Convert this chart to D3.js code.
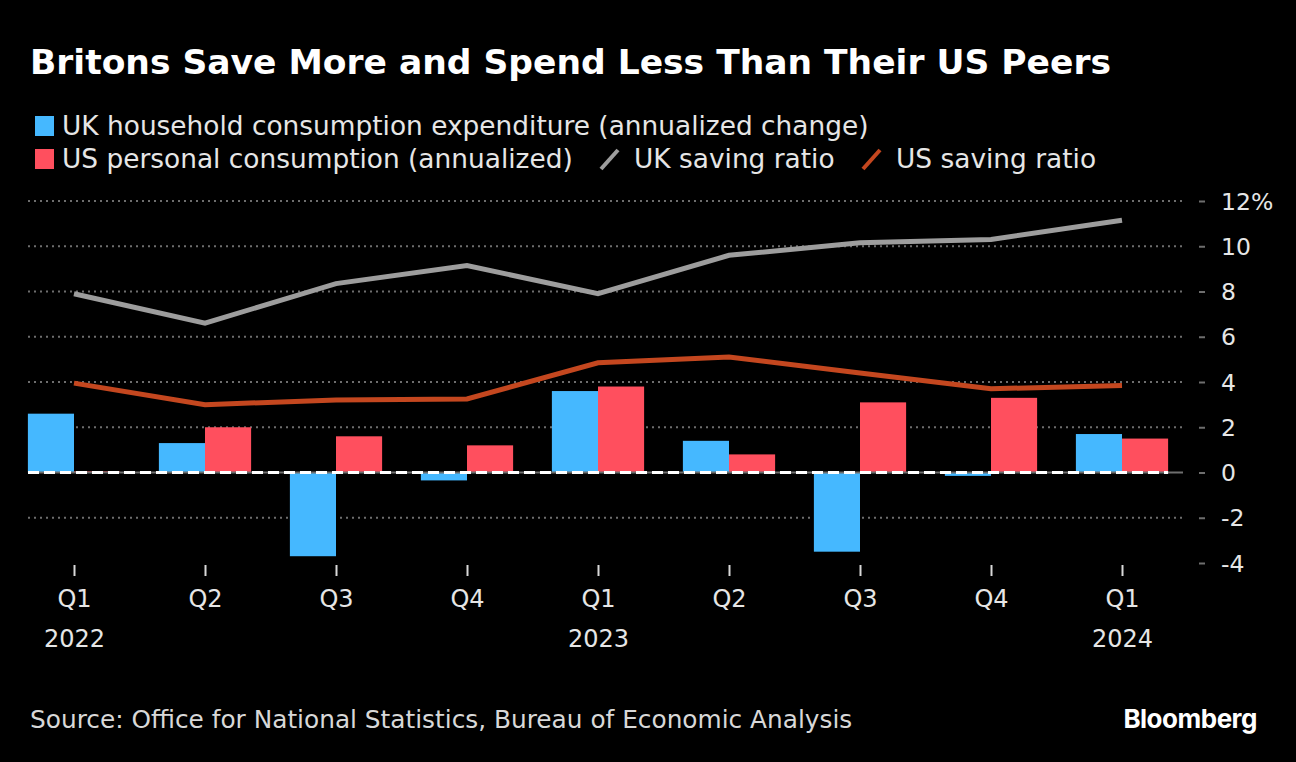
<!DOCTYPE html>
<html>
<head>
<meta charset="utf-8">
<script src="https://cdn.jsdelivr.net/npm/d3@7"></script>
<style>
  body { margin: 0; background: #000; }
  svg { display: block; }
</style>
</head>
<body>
<div id="chart"></div>
<script>
var quarters = ["Q1 2022", "Q2 2022", "Q3 2022", "Q4 2022", "Q1 2023",
                "Q2 2023", "Q3 2023", "Q4 2023", "Q1 2024"];
var quarterLabels = ["Q1", "Q2", "Q3", "Q4", "Q1", "Q2", "Q3", "Q4", "Q1"];
var yearLabels = ["2022", "", "", "", "2023", "", "", "", "2024"];

var ukConsumption = [2.6, 1.3, -3.7, -0.35, 3.6, 1.4, -3.5, -0.15, 1.7];
var usConsumption = [0.05, 2.0, 1.6, 1.2, 3.8, 0.8, 3.1, 3.3, 1.5];
var ukSaving = [7.9, 6.6, 8.35, 9.15, 7.9, 9.6, 10.15, 10.3, 11.15];
var usSaving = [3.95, 3.0, 3.2, 3.25, 4.85, 5.1, 4.4, 3.7, 3.85];

var yTicks = [-4, -2, 0, 2, 4, 6, 8, 10, 12];

var width = 1296, height = 762;
var blue = "#45b8ff", red = "#ff4f5e", grey = "#9d9d9d", brown = "#c4471f";
var font = "'DejaVu Sans', sans-serif";

var svg = d3.select("#chart").append("svg")
    .attr("width", width)
    .attr("height", height)
    .style("background", "#000");

// title
svg.append("text")
    .attr("x", 30).attr("y", 74)
    .attr("fill", "#fff")
    .attr("font-family", font)
    .attr("font-weight", "bold")
    .attr("font-size", "34.5px")
    .text("Britons Save More and Spend Less Than Their US Peers");

// legend
var legend = svg.append("g")
    .attr("font-family", font)
    .attr("font-size", "26.4px")
    .attr("fill", "#e6e6e6");

legend.append("rect").attr("x", 35).attr("y", 116).attr("width", 19).attr("height", 20).attr("fill", blue);
legend.append("text").attr("x", 62).attr("y", 135).text("UK household consumption expenditure (annualized change)");
legend.append("rect").attr("x", 35).attr("y", 149).attr("width", 19).attr("height", 20).attr("fill", red);
legend.append("text").attr("x", 62).attr("y", 168).text("US personal consumption (annualized)");
legend.append("line").attr("x1", 601).attr("y1", 169).attr("x2", 618).attr("y2", 150)
    .attr("stroke", grey).attr("stroke-width", 4);
legend.append("text").attr("x", 634).attr("y", 168).text("UK saving ratio");
legend.append("line").attr("x1", 863).attr("y1", 169).attr("x2", 880).attr("y2", 150)
    .attr("stroke", brown).attr("stroke-width", 4);
legend.append("text").attr("x", 896).attr("y", 168).text("US saving ratio");

// scales
var x = d3.scalePoint().domain(quarters).range([74, 1122]);
var barW = x.step() * 0.352;
var y = d3.scaleLinear().domain([-4, 12]).range([563, 201]);

var gridLeft = 28, gridRight = 1183;

// gridlines
svg.append("g").selectAll("line")
    .data(yTicks.filter(function(d){ return d !== 0 && d !== -4; }))
    .enter().append("line")
    .attr("x1", gridLeft).attr("x2", gridRight)
    .attr("y1", function(d){ return y(d); })
    .attr("y2", function(d){ return y(d); })
    .attr("stroke", "#6e6e6e")
    .attr("stroke-width", 2)
    .attr("stroke-dasharray", "2,4");

// right axis
var yAxis = svg.append("g")
    .attr("transform", "translate(1199,0)")
    .call(d3.axisRight(y).tickValues(yTicks).tickSize(6).tickPadding(16)
        .tickFormat(function(d){ return d === 12 ? "12%" : d; }));
yAxis.select(".domain").remove();
yAxis.selectAll(".tick line").attr("stroke", "#6e6e6e").attr("stroke-width", 2);
yAxis.selectAll(".tick text")
    .attr("fill", "#e6e6e6")
    .attr("font-family", font)
    .attr("font-size", "23.5px")
    .attr("dy", "0.35em");

// bars
svg.append("g").selectAll("rect")
    .data(ukConsumption)
    .enter().append("rect")
    .attr("x", function(d, i){ return x(quarters[i]) - barW; })
    .attr("y", function(d){ return y(Math.max(0, d)); })
    .attr("width", barW)
    .attr("height", function(d){ return Math.abs(y(d) - y(0)); })
    .attr("fill", blue);

svg.append("g").selectAll("rect")
    .data(usConsumption)
    .enter().append("rect")
    .attr("x", function(d, i){ return x(quarters[i]); })
    .attr("y", function(d){ return y(Math.max(0, d)); })
    .attr("width", barW)
    .attr("height", function(d){ return Math.abs(y(d) - y(0)); })
    .attr("fill", red);

// zero line
svg.append("line")
    .attr("x1", gridLeft).attr("x2", gridRight)
    .attr("y1", y(0)).attr("y2", y(0))
    .attr("stroke", "#6e6e6e").attr("stroke-width", 2);
svg.append("line")
    .attr("x1", gridLeft).attr("x2", x(quarters[8]) + barW)
    .attr("y1", y(0)).attr("y2", y(0))
    .attr("stroke", "#fff").attr("stroke-width", 3)
    .attr("stroke-dasharray", "11,5");

// lines
var line = d3.line()
    .x(function(d, i){ return x(quarters[i]); })
    .y(function(d){ return y(d); });

svg.append("path").datum(ukSaving)
    .attr("d", line)
    .attr("fill", "none")
    .attr("stroke", grey)
    .attr("stroke-width", 5);

svg.append("path").datum(usSaving)
    .attr("d", line)
    .attr("fill", "none")
    .attr("stroke", brown)
    .attr("stroke-width", 5);

// x axis
var xAxis = svg.append("g")
    .attr("transform", "translate(0,565)")
    .call(d3.axisBottom(x).tickSize(11).tickPadding(14).tickFormat(function(d, i){ return quarterLabels[i]; }));
xAxis.select(".domain").remove();
xAxis.selectAll(".tick line").attr("stroke", "#d8d8d8").attr("stroke-width", 2);
xAxis.selectAll(".tick text")
    .attr("fill", "#e6e6e6")
    .attr("font-family", font)
    .attr("font-size", "24px");
xAxis.selectAll(".tick").append("text")
    .attr("y", 82)
    .attr("fill", "#e6e6e6")
    .attr("font-family", font)
    .attr("font-size", "24px")
    .attr("text-anchor", "middle")
    .text(function(d, i){ return yearLabels[i]; });

// footer
svg.append("text")
    .attr("x", 30).attr("y", 728)
    .attr("fill", "#d8d8d8")
    .attr("font-family", font)
    .attr("font-size", "24.8px")
    .text("Source: Office for National Statistics, Bureau of Economic Analysis");

svg.append("text")
    .attr("x", 1257).attr("y", 728)
    .attr("text-anchor", "end")
    .attr("fill", "#fff")
    .attr("font-family", "Inter, sans-serif")
    .attr("font-weight", "bold")
    .attr("font-size", "26px")
    .attr("letter-spacing", "-0.5px")
    .text("Bloomberg");
</script>
</body>
</html>
